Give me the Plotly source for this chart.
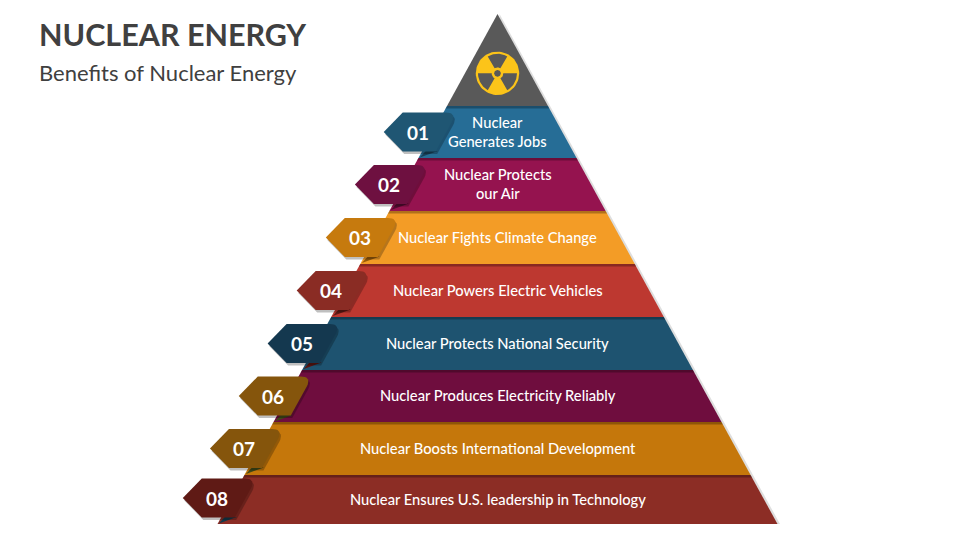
#!/usr/bin/env python3

from __future__ import annotations

import numpy as np
import plotly.graph_objects as go

TITLE = "NUCLEAR ENERGY"
SUBTITLE = "Benefits of Nuclear Energy"

tier_labels = [
    "",
    "Nuclear<br>Generates Jobs",
    "Nuclear Protects<br>our Air",
    "Nuclear Fights Climate Change",
    "Nuclear Powers Electric Vehicles",
    "Nuclear Protects National Security",
    "Nuclear Produces Electricity Reliably",
    "Nuclear Boosts International Development",
    "Nuclear Ensures U.S. leadership in Technology",
]
tier_heights = [92, 52, 53, 53, 53, 53, 52, 53, 49]
tag_labels = ["01", "02", "03", "04", "05", "06", "07", "08"]

TIER_COLORS = ["#595959", "#266d96", "#95134f", "#f39c26", "#bd3830",
               "#1e5370", "#6f0d3e", "#c5770b", "#8c2d25"]
TAG_COLORS = ["#1f5673", "#6e1040", "#c67a0e", "#8a2c24",
              "#14384f", "#85550c", "#85550c", "#5f1a15"]
FOLD_COLORS = ["#174058", "#520c30", "#94590a", "#5f1a15",
               "#5a1410", "#3f4a18", "#3f4a18", "#123a4c"]
YELLOW = "#fcc419"
GREY = "#595959"

APEX_X = 497.5
APEX_Y = 14
SLOPE = 0.549
ICON_X, ICON_Y = 497.5, 73.3
FONT = "Lato"


def half_width(y: float) -> float:
    return (y - APEX_Y) * SLOPE


def polygon(xs, ys, color: str) -> go.Scatter:
    return go.Scatter(
        x=list(xs),
        y=list(ys),
        mode="lines",
        fill="toself",
        fillcolor=color,
        line=dict(width=0),
        hoverinfo="skip",
        showlegend=False,
    )


def circle(cx: float, cy: float, r: float, color: str) -> go.Scatter:
    angles = np.linspace(0, 2 * np.pi, 73)
    return polygon(cx + r * np.cos(angles), cy + r * np.sin(angles), color)


def blade(angle: float, inner: float, outer: float) -> go.Scatter:
    # angle measured clockwise from straight up, blade spans 60 degrees
    angles = np.radians(np.linspace(angle - 30, angle + 30, 25))
    xs = np.concatenate([ICON_X + outer * np.sin(angles), ICON_X + inner * np.sin(angles[::-1])])
    ys = np.concatenate([ICON_Y - outer * np.cos(angles), ICON_Y - inner * np.cos(angles[::-1])])
    return polygon(xs, ys, GREY)


def tag_outline(tip: float, cy: float) -> tuple[np.ndarray, np.ndarray]:
    # pentagon pointing left, slanted right side, rounded top right corner
    top, bottom = cy - 19.5, cy + 19.5
    t = np.linspace(0, 1, 10)
    c0 = np.array([tip + 62, top])
    c1 = np.array([tip + 73, top])
    c2 = np.array([tip + 68, top + 10])
    curve = np.outer((1 - t) ** 2, c0) + np.outer(2 * t * (1 - t), c1) + np.outer(t ** 2, c2)
    xs = np.concatenate([[tip, tip + 19], curve[:, 0], [tip + 52, tip + 19, tip]])
    ys = np.concatenate([[cy, top], curve[:, 1], [bottom, bottom, cy]])
    return xs, ys


def create_figure() -> go.Figure:
    figure = go.Figure()
    annotations = []

    edges = APEX_Y + np.cumsum([0] + tier_heights)
    base_y = edges[-1]

    # soft shadow behind the pyramid
    figure.add_trace(polygon(
        [APEX_X + 2, APEX_X + half_width(base_y) + 2.5, APEX_X],
        [APEX_Y, base_y, base_y],
        "rgba(0,0,0,0.13)",
    ))

    for i, height in enumerate(tier_heights):
        top, bottom = edges[i], edges[i + 1]
        w_top, w_bottom = half_width(top), half_width(bottom)
        figure.add_trace(polygon(
            [APEX_X - w_top, APEX_X + w_top, APEX_X + w_bottom, APEX_X - w_bottom],
            [top, top, bottom, bottom],
            TIER_COLORS[i],
        ))
        if i > 0:
            w_strip = half_width(top + 2.5)
            figure.add_trace(polygon(
                [APEX_X - w_top, APEX_X + w_top, APEX_X + w_strip, APEX_X - w_strip],
                [top, top, top + 2.5, top + 2.5],
                "rgba(0,0,0,0.28)",
            ))
            annotations.append(dict(
                x=APEX_X, y=(top + bottom) / 2 - 1,
                text=tier_labels[i],
                font=dict(family=FONT, size=14.7, color="white", weight=500),
            ))

    # number tags on the left edge of every tier below the cap
    for i, label in enumerate(tag_labels):
        top, bottom = edges[i + 1], edges[i + 2]
        cy = (top + bottom) / 2 - (1.5 if i == len(tag_labels) - 1 else 0)
        tip = APEX_X - half_width(cy) - 49

        figure.add_trace(polygon(
            [tip + 36, tip + 42, tip + 54],
            [cy + 25.5, cy + 19, cy + 19],
            FOLD_COLORS[i],
        ))
        xs, ys = tag_outline(tip, cy)
        figure.add_trace(polygon(xs + 1.5, ys + 2.5, "rgba(0,0,0,0.25)"))
        figure.add_trace(polygon(xs, ys, TAG_COLORS[i]))
        annotations.append(dict(
            x=tip + 34, y=cy,
            text=f"<b>{label}</b>",
            font=dict(family=FONT, size=19, color="white"),
        ))

    # radiation symbol on the cap
    figure.add_trace(circle(ICON_X, ICON_Y, 21.7, YELLOW))
    for angle in (0, 120, 240):
        figure.add_trace(blade(angle, 5.5, 19.5))
    figure.add_trace(circle(ICON_X, ICON_Y, 5.8, YELLOW))
    figure.add_trace(circle(ICON_X, ICON_Y, 3.4, GREY))

    for note in annotations:
        note.update(xref="x", yref="y", showarrow=False, align="center")

    annotations.append(dict(
        x=37, y=34, xref="x", yref="y", xanchor="left", showarrow=False,
        text=f"<b>{TITLE}</b>",
        font=dict(family=FONT, size=30.5, color="#404040"),
    ))
    annotations.append(dict(
        x=37, y=72.5, xref="x", yref="y", xanchor="left", showarrow=False,
        text=SUBTITLE,
        font=dict(family=FONT, size=22, color="#404040"),
    ))

    figure.update_layout(
        width=960,
        height=540,
        margin=dict(l=0, r=0, t=0, b=0),
        paper_bgcolor="white",
        plot_bgcolor="white",
        showlegend=False,
        annotations=annotations,
    )
    figure.update_xaxes(visible=False, range=[0, 960], fixedrange=True)
    figure.update_yaxes(visible=False, range=[540, 0], fixedrange=True)
    return figure


def main() -> None:
    figure = create_figure()
    figure.write_html(
        "out.html",
        config=dict(displayModeBar=False),
        post_script="document.body.style.margin = '0';",
    )


if __name__ == "__main__":
    main()
